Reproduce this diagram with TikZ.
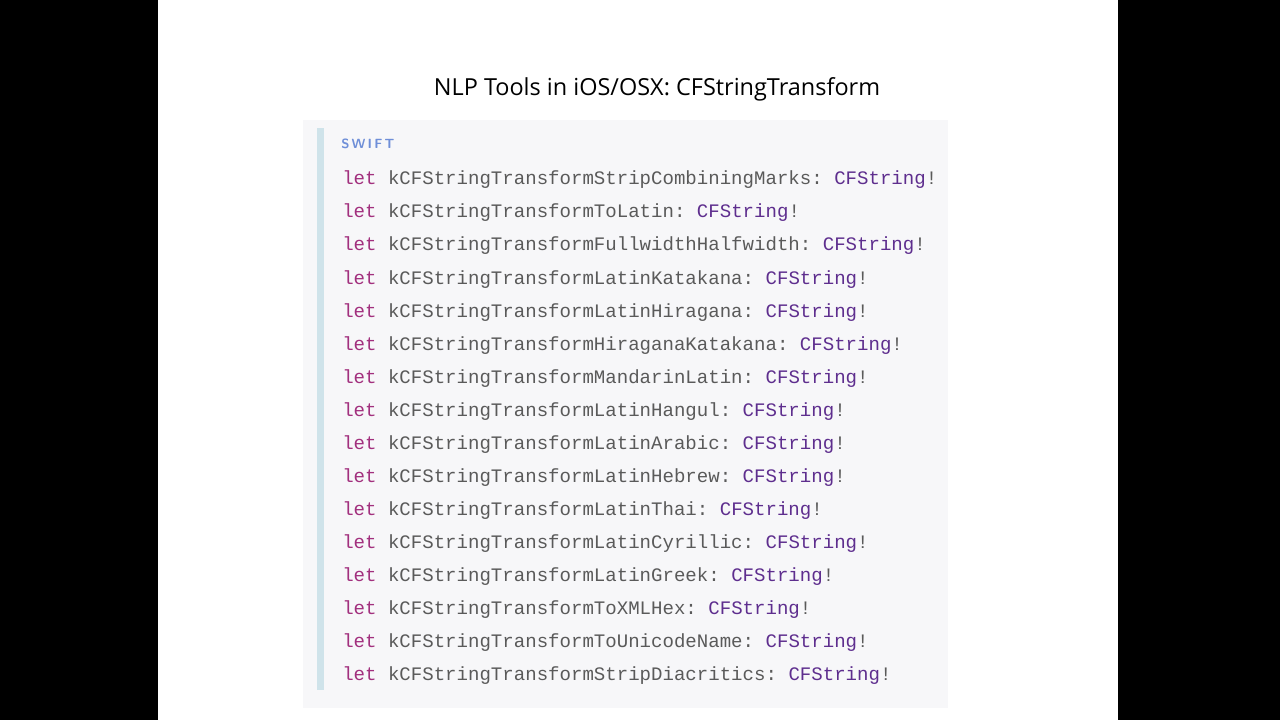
\documentclass[tikz,border=0pt]{standalone}
\usepackage{fontspec}
\setmainfont{Open Sans}
\setmonofont{Liberation Mono}
\usetikzlibrary{positioning}
\definecolor{slidebg}{HTML}{FFFFFF}
\definecolor{codebg}{HTML}{F7F7F9}
\definecolor{barblue}{HTML}{CFE3EA}
\definecolor{kwcol}{HTML}{A2307E}
\definecolor{idcol}{HTML}{5A5A5A}
\definecolor{typecol}{HTML}{5E2E8E}
\definecolor{tagcol}{HTML}{6F8FD8}
\tikzset{
	codeline/.style={anchor=base west, inner sep=0pt, font=\fontsize{14.3pt}{16pt}\ttfamily},
	title/.style={font=\fontsize{17.6pt}{21pt}\selectfont, text=black}
}
\newcommand{\cfline}[1]{\textcolor{kwcol}{let} \textcolor{idcol}{#1:} \textcolor{typecol}{CFString}\textcolor{idcol}{!}}
\begin{document}
\begin{tikzpicture}[x=0.75pt, y=-0.75pt]
        % Slide and side bars
        \useasboundingbox (0,0) rectangle (1280,720);
        \fill[black] (0,0) rectangle (158,720);
        \fill[black] (1118,0) rectangle (1280,720);
        \fill[slidebg] (158,0) rectangle (1118,720);
        
        % Title
        \node[title] (ttl) at (657,89) {NLP Tools in iOS/OSX: CFStringTransform};
        
        % Code box
        \fill[codebg] (303,120) rectangle (948,708);
        \fill[barblue] (317,128) rectangle (324,690);
        \node[anchor=base west, inner sep=0pt, text=tagcol, font=\fontsize{10pt}{12pt}\sffamily\bfseries] (tag) at (341,149) {S\,W\,I\,F\,T};
        
        % Code lines
        \foreach \nm [count=\i from 0] in {StripCombiningMarks, ToLatin, FullwidthHalfwidth, LatinKatakana,
                LatinHiragana, HiraganaKatakana, MandarinLatin, LatinHangul, LatinArabic, LatinHebrew,
                LatinThai, LatinCyrillic, LatinGreek, ToXMLHex, ToUnicodeName, StripDiacritics}
            \node[codeline] (line\i) at (342,{185+33*\i}) {\cfline{kCFStringTransform\nm}};
    \end{tikzpicture}
\end{document}
